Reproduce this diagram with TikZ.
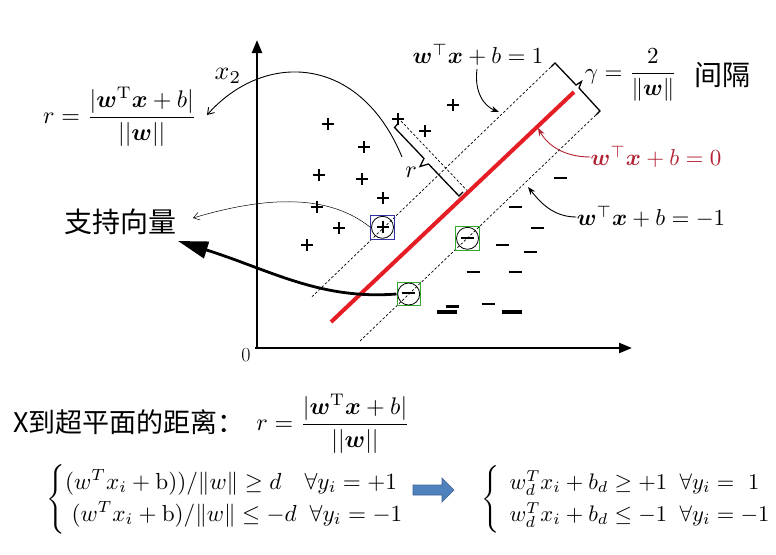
\documentclass[tikz,border=0pt]{standalone}
\usepackage{amsmath,amssymb,bm}
\usepackage{fontspec}
\newfontfamily\cjk{Noto Sans CJK SC}
\usetikzlibrary{arrows.meta,calc}
\definecolor{svred}{RGB}{228,30,36}
\definecolor{lblred}{RGB}{178,34,52}
\definecolor{svblue}{RGB}{50,50,165}
\definecolor{svgreen}{RGB}{50,170,50}
\definecolor{arrblue}{RGB}{79,129,189}
\definecolor{arrborder}{RGB}{60,100,150}
\begin{document}
\begin{tikzpicture}[x=1pt,y=-1pt,
  every node/.style={inner sep=0pt},
  axis/.style={line width=2.4pt,-{Triangle[length=13pt,width=10pt]}},
  margin/.style={line width=0.7pt,dash pattern=on 2.5pt off 2pt},
  hyper/.style={line width=4pt,svred},
  brk/.style={line width=1.3pt,line join=miter},
  thinarr/.style={line width=0.7pt,-{Straight Barb[length=6pt,width=8pt]}},
  ptr/.style={line width=0.9pt,-{Stealth[length=8pt,width=6pt]}},
  svbox/.style={draw=#1,line width=0.9pt,minimum size=23.5pt},
  cjkbig/.style={font=\cjk\fontsize{28}{32}\selectfont},
  cjkmid/.style={font=\cjk\fontsize{27}{30}\selectfont},
  mathbig/.style={scale=2.3},
  mathfrac/.style={scale=2.4},
  eqfont/.style={scale=2.32,font=\fontsize{10}{13.8}\selectfont},
  eqfontR/.style={scale=2.25,font=\fontsize{10}{14.2}\selectfont},
  plusmark/.pic={\draw[line width=2.6pt] (-6,0)--(6,0) (0,-6)--(0,6);},
  minusmark/.pic={\draw[line width=2.6pt] (-6.5,0)--(6.5,0);},
  wideminus/.pic={\draw[line width=4.5pt] (-10,0)--(10,0);},
]
\useasboundingbox (0,0) rectangle (776,554);

% axes
\coordinate (O) at (257,348);
\coordinate (xend) at (632,348);
\coordinate (yend) at (257,40);
\draw[axis] (255,348) -- (xend);
\draw[axis] (257,349.2) -- (yend);
\node[font=\fontsize{20}{24}\selectfont] (zero) at (246,355) {0};
\node[scale=2.6] (xlab) at (228,76) {$x_2$};

% margins and hyperplane
\draw[margin] (312,296.7) -- (555,63);
\draw[margin] (360,341) -- (600,111);
\draw[hyper] (331,322) -- (574,92);

% gamma bracket
\draw[brk] (551,67) -- (555,63) -- (576,85) -- (581.5,81.5) -- (579,88) -- (600,111) -- (596,115);
% r bracket
\draw[margin] (401,121) -- (467,190.5);
\draw[brk] (398,123.5) -- (394.5,127.5) -- (424,158.5) -- (420,166.5) -- (428.5,164) -- (459,196) -- (463,192);
\node[scale=2.4] (rlab) at (411,172) {$r$};

% positive points
\foreach \p in {(328,124),(453,105),(398,119),(425,131),(364,147),(319,175),(362,179),(383,198),(317,207),(339,228),(307,245),(383,227)}
  \pic at \p {plusmark};
% negative points
\foreach \p in {(560,178),(515,207),(537,228),(502,245),(530,252),(473,272),(515,272),(452,306.5),(488,304),(467,238),(408,293)}
  \pic at \p {minusmark};
\pic at (447,312) {wideminus};
\pic at (512,312) {wideminus};

% support vectors
\node[svbox=svblue] (sv1) at (382.5,227.3) {};
\node[svbox=svgreen] (sv2) at (467.5,238.3) {};
\node[svbox=svgreen] (sv3) at (408.7,294) {};
\foreach \s in {sv1,sv2,sv3} \draw[line width=0.8pt] (\s.center) circle (11);

% labels
\node[mathfrac] (rtop) at (120,117) {$r=\dfrac{|\bm w^{\mathrm T}\bm x+b|}{||\bm w||}$};
\node[mathbig] (l1) at (478,55) {$\bm w^{\top}\bm x+b=1$};
\node[mathbig,text=lblred] (l0) at (656,157) {$\bm w^{\top}\bm x+b=0$};
\node[mathbig] (lm1) at (651,217) {$\bm w^{\top}\bm x+b=-1$};
\node[mathbig] (gam) at (631,75) {$\gamma=\dfrac{2}{\|\bm w\|}$};
\node[cjkbig] (gap) at (722,75) {间隔};
\node[cjkbig] (svlab) at (120,222) {支持向量};

% pointers
\coordinate (rc) at (402,157);
\coordinate (rtip) at (207,115);
\draw[thinarr,line width=0.9pt] (rc) .. controls (360,55) and (265,50) .. (rtip);
\coordinate (m1tip) at (499,112);
\draw[ptr] (477,69) .. controls (474,92) and (484,106) .. (m1tip);
\coordinate (h0tip) at (538,128);
\draw[ptr,lblred] (l0.west) .. controls (565,157) and (548,146) .. (h0tip);
\coordinate (mm1tip) at (528,187);
\draw[ptr] (lm1.west) .. controls (553,217) and (540,202) .. (mm1tip);
\coordinate (svtipA) at (193,218);
\draw[thinarr,line width=0.5pt] (sv1.west) .. controls (330,195) and (270,195) .. (svtipA);
\coordinate (svtipB) at (178,241);
\draw[line width=2.8pt,-{Triangle[length=30pt,width=17pt]}] (sv3.west) .. controls (320,300) and (270,270) .. (svtipB);

% bottom text
\node[cjkmid,anchor=west] (dist) at (13,422) {X到超平面的距离：};
\node[mathfrac,anchor=west] (rbot) at (256,424) {$r=\dfrac{|\bm w^{\mathrm T}\bm x+b|}{||\bm w||}$};

\node[eqfont,anchor=west] (eqL) at (46,499) {$\left\{\begin{array}{@{}l@{}}(w^T x_i+\mathrm{b}))/\|w\|\geq d\quad\forall y_i=+1\\ \;(w^T x_i+\mathrm{b})/\|w\|\leq -d\;\;\forall y_i=-1\end{array}\right.$};
\draw[fill=arrblue,draw=arrborder,line width=0.6pt] (413,485) -- (442,485) -- (442,478) -- (454,490) -- (442,502) -- (442,495) -- (413,495) -- cycle;
\node[eqfontR,anchor=west] (eqR) at (481,499) {$\left\{\begin{array}{@{\;\,}l@{}}w_d^T x_i+b_d\geq+1\;\;\forall y_i=\ 1\\ w_d^T x_i+b_d\leq-1\;\;\forall y_i=-1\end{array}\right.$};
\end{tikzpicture}
\end{document}
